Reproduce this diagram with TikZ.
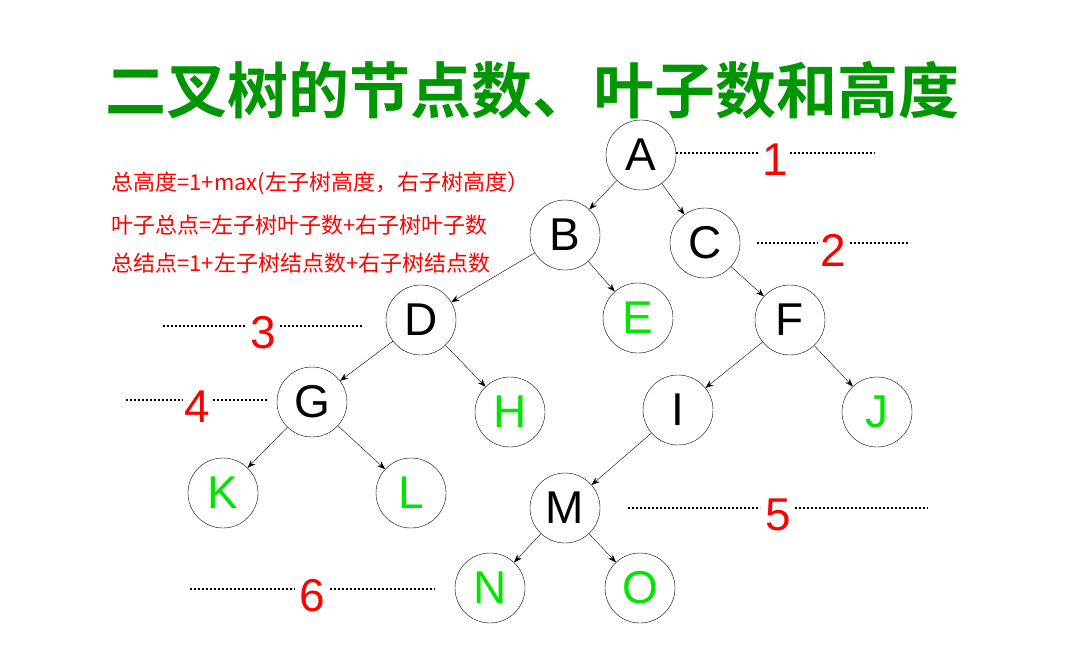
\documentclass[tikz,border=0pt]{standalone}
\usepackage{fontspec}
\setmainfont{Liberation Sans}
\newfontfamily\cjk{Noto Sans CJK SC}
\newfontfamily\cjkb{Noto Sans CJK SC Bold}
\usetikzlibrary{arrows.meta}
\definecolor{leafg}{RGB}{0,230,0}
\definecolor{titleg}{RGB}{0,150,0}
\begin{document}
\begin{tikzpicture}[x=1pt,y=-1pt,
  tn/.style={circle,draw,thin,minimum size=70pt,inner sep=0pt,font=\fontsize{46}{46}\selectfont},
  leaf/.style={tn,text=leafg},
  edge/.style={-{Stealth[length=8pt,width=6pt]},thin},
  lvl/.style={dotted,line width=2pt},
  num/.style={text=red,font=\fontsize{46}{46}\selectfont},
  note/.style={text=red,anchor=west,font=\cjk\fontsize{22}{22}\selectfont}]
\useasboundingbox (0,0) rectangle (1070,669);
\node[font=\cjkb\fontsize{61}{61}\selectfont,text=titleg] (title) at (532,90) {二叉树的节点数、叶子数和高度};
\node[note] (n1) at (108,183) {总高度=1+max(左子树高度，右子树高度）};
\node[note] (n2) at (108,225) {叶子总点=左子树叶子数+右子树叶子数};
\node[note] (n3) at (108,263) {总结点=1+左子树结点数+右子树结点数};
\node[tn] (A) at (641,155) {A};
\node[tn] (B) at (565,235) {B};
\node[tn] (C) at (705,243) {C};
\node[tn] (D) at (421,320) {D};
\node[leaf] (E) at (638,318) {E};
\node[tn] (F) at (790,320) {F};
\node[tn] (G) at (312,402) {G};
\node[leaf] (H) at (510,412) {H};
\node[tn] (I) at (678,410) {I};
\node[leaf] (J) at (877,412) {J};
\node[leaf] (K) at (223,493) {K};
\node[leaf] (L) at (411,493) {L};
\node[tn] (M) at (565,508) {M};
\node[leaf] (N) at (490,588) {N};
\node[leaf] (O) at (640,588) {O};
\foreach \a/\b in {A/B,A/C,B/D,B/E,C/F,D/G,D/H,F/I,F/J,G/K,G/L,I/M,M/N,M/O}
  \draw[edge] (\a) -- (\b);
\foreach \n/\x/\y/\la/\lb/\ra/\rb in {1/775/160/676/758/790/875, 2/833/250/757/818/850/910, 3/263/333/163/245/280/363, 4/197/407/126/183/213/268, 5/778/515/628/760/795/928, 6/312/596/190/295/330/435}{
  \node[num] (L\n) at (\x,\y) {\n};
  \coordinate (La\n) at (\la,\y-7);
  \coordinate (Lb\n) at (\lb,\y-7);
  \coordinate (Ra\n) at (\ra,\y-7);
  \coordinate (Rb\n) at (\rb,\y-7);
  \draw[lvl] (La\n) -- (Lb\n);
  \draw[lvl] (Ra\n) -- (Rb\n);
}
\end{tikzpicture}
\end{document}
